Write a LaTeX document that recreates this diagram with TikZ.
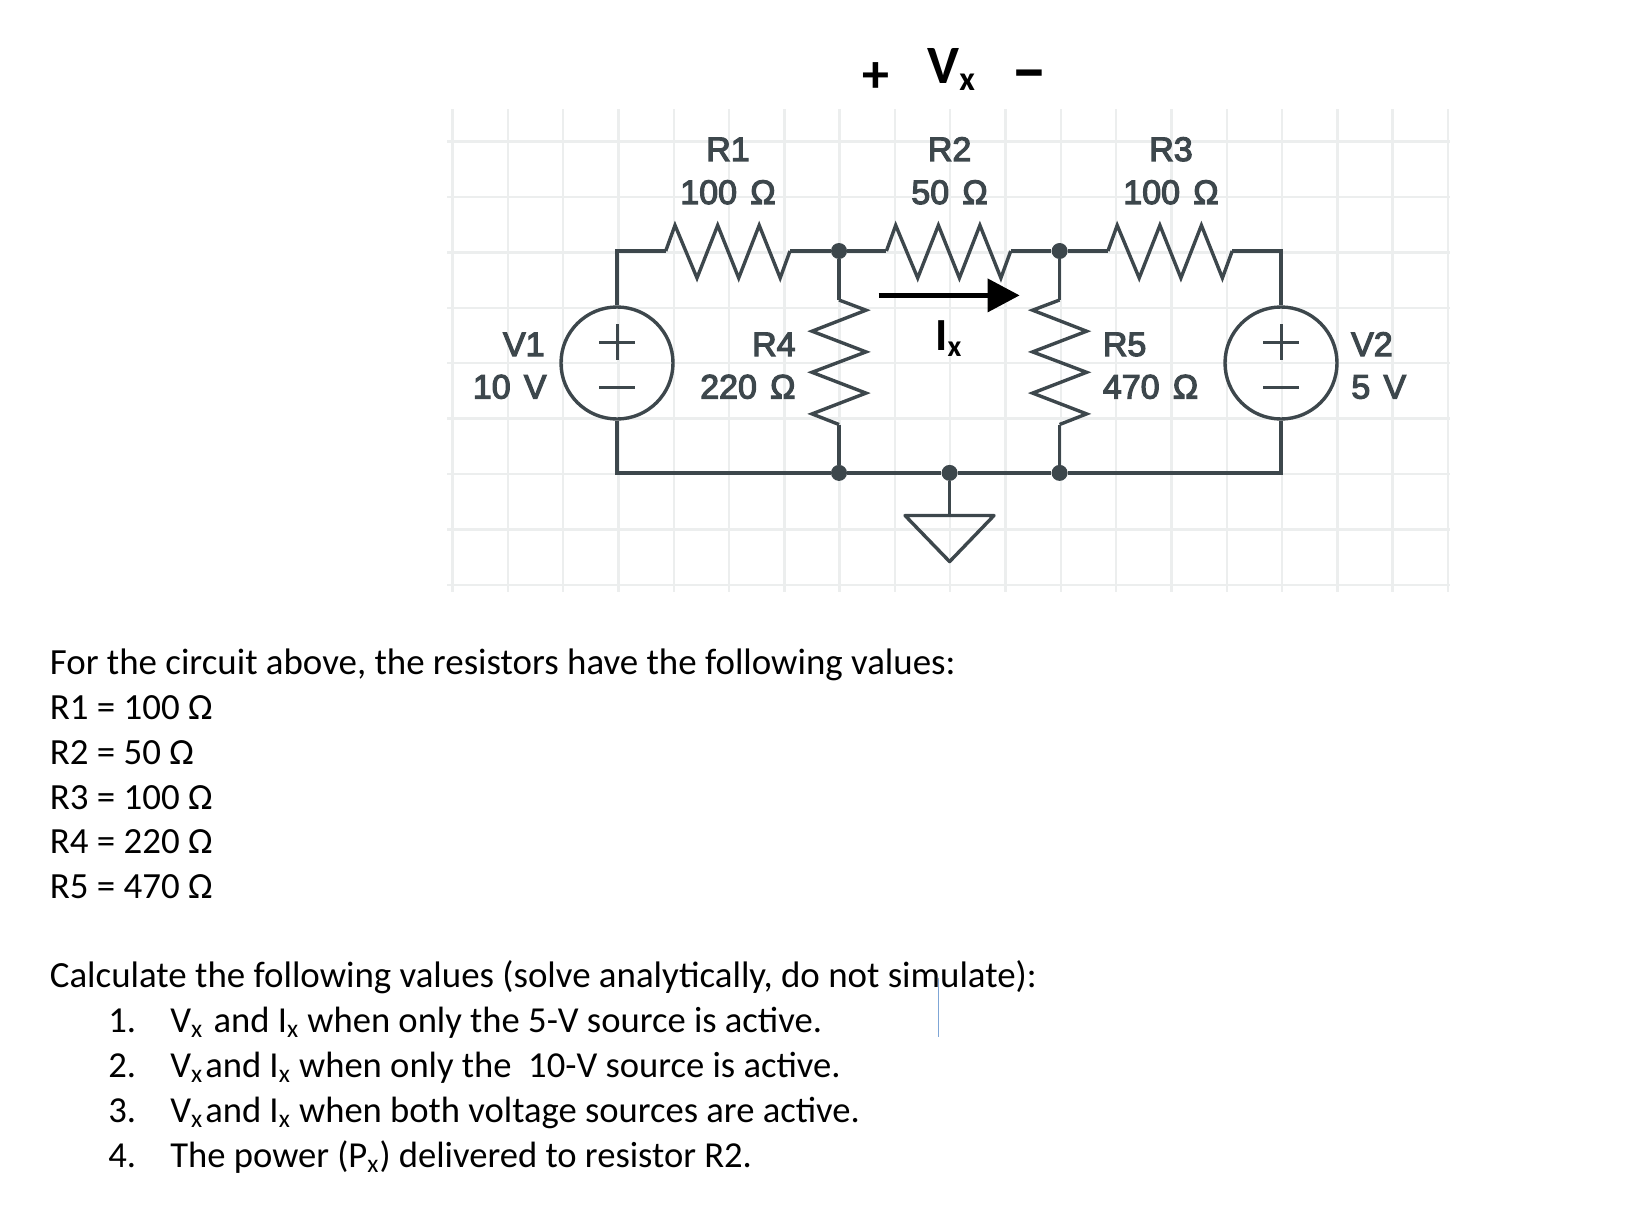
\documentclass[tikz,border=0pt]{standalone}
\usepackage{fontspec}
\setmainfont{Carlito}
\newfontfamily\cktfont[FakeBold=3.5,WordSpace=1.4]{Liberation Sans}
\usetikzlibrary{positioning,calc,arrows.meta}
\definecolor{wirecol}{HTML}{3D474C}
\definecolor{gridcol}{HTML}{ECEEEE}
\definecolor{cursorcol}{HTML}{7FA6D6}
\newcommand{\bigsub}[1]{\raisebox{-3.5pt}{\fontsize{17}{17}\selectfont #1}}

\begin{document}
\begin{tikzpicture}[
    x=0.5pt, y=-0.5pt,
    wire/.style={draw=wirecol, line width=1.7pt, line join=miter},
    gridline/.style={draw=gridcol, line width=1.2pt},
    dot/.style={circle, fill=wirecol, inner sep=0pt, minimum size=8pt},
    source/.style={circle, draw=wirecol, line width=1.7pt, inner sep=0pt, minimum size=56pt},
    lbl/.style={inner sep=0pt, text=wirecol, font=\cktfont\fontsize{17}{17}\selectfont},
    big/.style={inner sep=0pt, font=\bfseries\fontsize{27}{27}\selectfont},
    body/.style={inner sep=0pt, anchor=base west, font=\fontsize{18.45}{22}\selectfont},
    itembody/.style={body, font=\fontsize{18.3}{22}\selectfont}
]
    \useasboundingbox (0,0) rectangle (1644,1220);

    % Grid paper
    \foreach \i in {0,...,18} {
        \draw[gridline] (452.5+\i*55.3, 109) -- (452.5+\i*55.3, 592);
    }
    \foreach \j in {0,...,8} {
        \draw[gridline] (447, 141.6+\j*55.4) -- (1450, 141.6+\j*55.4);
    }

    % Junctions and sources
    \node[dot] (topL) at (839, 251) {};
    \node[dot] (topR) at (1059.6, 251) {};
    \node[dot] (botL) at (839, 472.9) {};
    \node[dot] (botM) at (949.6, 472.9) {};
    \node[dot] (botR) at (1059.6, 472.9) {};
    \node[source] (V1) at (617, 363) {};
    \node[source] (V2) at (1281, 363) {};

    % Horizontal resistors
    \foreach \r/\x in {R1/665.7, R2/886.4, R3/1107.9} {
        \coordinate (\r a) at (\x, 251);
        \coordinate (\r b) at (\x+124.3, 251);
        \draw[wire] (\r a) -- ++(9.3,-25.7) -- ++(22,52.7) -- ++(20.7,-52.7) -- ++(21,52.7)
            -- ++(20.5,-52.7) -- ++(21,52.7) -- (\r b);
    }

    % Vertical resistors
    \foreach \r/\x/\s in {R4/839/1, R5/1059.6/-1} {
        \coordinate (\r a) at (\x, 300);
        \coordinate (\r b) at (\x, 424.5);
        \draw[wire] (\r a) -- ++(\s*27,10.2) -- ++(-\s*54,21) -- ++(\s*54,20.7) -- ++(-\s*54,20.4)
            -- ++(\s*54,20.8) -- ++(-\s*54,20.8) -- (\r b);
    }

    % Wires
    \draw[wire] (V1.north) |- (R1a);
    \draw[wire] (R1b) -- (topL) -- (R2a);
    \draw[wire] (R2b) -- (topR) -- (R3a);
    \draw[wire] (R3b) -| (V2.north);
    \draw[wire] (topL) -- (R4a);
    \draw[wire] (topR) -- (R5a);
    \draw[wire] (R4b) -- (botL);
    \draw[wire] (R5b) -- (botR);
    \draw[wire] (V1.south) |- (botL) -- (botM) -- (botR) -| (V2.south);

    % Polarity marks inside the sources
    \foreach \v in {V1, V2} {
        \draw[wirecol, line width=1.5pt] ($(\v)+(-18,-21)$) -- ($(\v)+(18,-21)$);
        \draw[wirecol, line width=1.5pt] ($(\v)+(0,-39)$) -- ($(\v)+(0,-3)$);
        \draw[wirecol, line width=1.5pt] ($(\v)+(-18,24)$) -- ($(\v)+(18,24)$);
    }

    % Ground
    \coordinate (gndTop) at (949.6, 515.5);
    \draw[wire] (botM) -- (gndTop);
    \draw[wire, line join=round] (905, 515.5) -- (994, 515.5) -- (949.6, 561.6) -- cycle;

    % Current arrow
    \coordinate (Ixa) at (878.6, 295.4);
    \coordinate (Ixb) at (1019.6, 295.4);
    \draw[line width=2.2pt, -{Triangle[length=16pt, width=16.4pt]}] (Ixa) -- (Ixb);

    % Component labels
    \node[lbl, anchor=base] (R1name) at (728, 161) {R1};
    \node[lbl, anchor=base] (R1val) at (728, 204) {100 Ω};
    \node[lbl, anchor=base] (R2name) at (949.6, 161) {R2};
    \node[lbl, anchor=base] (R2val) at (949.6, 204) {50 Ω};
    \node[lbl, anchor=base] (R3name) at (1171, 161) {R3};
    \node[lbl, anchor=base] (R3val) at (1171, 204) {100 Ω};
    \node[lbl, anchor=base east] (V1name) at (545, 356) {V1};
    \node[lbl, anchor=base east] (V1val) at (547, 398.5) {10 V};
    \node[lbl, anchor=base east] (R4name) at (796, 356) {R4};
    \node[lbl, anchor=base east] (R4val) at (796, 398.5) {220 Ω};
    \node[lbl, anchor=base west] (R5name) at (1102.5, 356) {R5};
    \node[lbl, anchor=base west] (R5val) at (1102.5, 398.5) {470 Ω};
    \node[lbl, anchor=base west] (V2name) at (1350.7, 356) {V2};
    \node[lbl, anchor=base west] (V2val) at (1351, 398.5) {5 V};

    % Measured quantities
    \node[big] (Vplus) at (875.7, 78) {+};
    \node[big, anchor=base west] (Vx) at (927, 84) {V\bigsub{x}};
    \node[big, anchor=base, font=\bfseries\fontsize{36}{36}\selectfont] (Vminus) at (1029, 94) {–};
    \node[big, anchor=base west, font=\bfseries\fontsize{23}{23}\selectfont] (Ix) at (935, 350) {I\raisebox{-3pt}{\fontsize{15}{15}\selectfont x}};

    % Problem statement
    \node[body] (intro) at (49.5, 674) {For the circuit above, the resistors have the following values:};
    \node[body] (val1) at (49.5, 719) {R1 = 100 Ω};
    \node[body] (val2) at (49.5, 764) {R2 = 50 Ω};
    \node[body] (val3) at (49.5, 809) {R3 = 100 Ω};
    \node[body] (val4) at (49.5, 853.5) {R4 = 220 Ω};
    \node[body] (val5) at (49.5, 898.5) {R5 = 470 Ω};
    \node[body] (task) at (49.5, 987) {Calculate the following values (solve analytically, do not simulate):};
    \foreach \n/\y in {1/1032, 2/1077, 3/1122, 4/1167} {
        \node[itembody] (num\n) at (108, \y) {\n.};
    }
    \node[itembody] (item1) at (170, 1032) {V\textsubscript{x}\hspace{1pt} and I\textsubscript{x} when only the 5-V source is active.};
    \node[itembody] (item2) at (170, 1077) {V\textsubscript{x}\hspace{1pt}and I\textsubscript{x} when only the\ \ 10-V source is active.};
    \node[itembody] (item3) at (170, 1122) {V\textsubscript{x}\hspace{1pt}and I\textsubscript{x} when both voltage sources are active.};
    \node[itembody] (item4) at (170, 1167) {The power (P\textsubscript{x}) delivered to resistor R2.};

    % Text cursor
    \coordinate (curA) at (938.6, 978);
    \coordinate (curB) at (938.6, 1037);
    \draw[cursorcol, line width=0.8pt] (curA) -- (curB);

\end{tikzpicture}
\end{document}
